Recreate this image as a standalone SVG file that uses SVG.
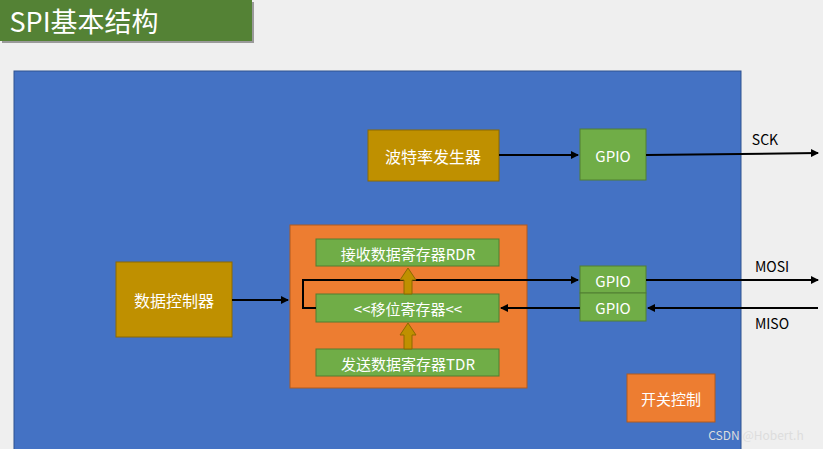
<svg xmlns="http://www.w3.org/2000/svg" width="823" height="449" viewBox="0 0 823 449">
<defs>
<style>
text{font-family:"Microsoft YaHei","Noto Sans CJK SC",sans-serif;fill:#fff;text-anchor:middle;dominant-baseline:central}
.g{fill:#70AD47;stroke:#507E32;stroke-width:1}
.y{fill:#BF9000;stroke:#8C6900;stroke-width:1}
.o{fill:#ED7D31;stroke:#AE5A21;stroke-width:1}
.c{stroke:#000;stroke-width:2;fill:none;marker-end:url(#a)}
</style>
<marker id="a" markerWidth="8" markerHeight="8" refX="7" refY="4" orient="auto" markerUnits="userSpaceOnUse"><path d="M0,0L8,4L0,8z" fill="#000"/></marker>
</defs>
<rect width="823" height="449" fill="#efefef"/>
<g id="title"><rect x="2" y="2" width="252" height="41" fill="#9a9a9a"/><rect x="0" y="0" width="252" height="41" fill="#548235"/><text x="84" y="20" font-size="27" style="text-anchor:middle">SPI基本结构</text></g>
<g id="main"><rect x="14" y="71" width="727" height="390" fill="#4472C4" stroke="#2F528F"/></g>
<g id="baud"><rect class="y" x="368" y="130" width="131" height="51"/><text x="433" y="156" font-size="16">波特率发生器</text></g>
<g id="gpio1"><rect class="g" x="580" y="129" width="66" height="51"/><text x="613" y="155" font-size="15">GPIO</text></g>
<g id="dctl"><rect class="y" x="116" y="262" width="116" height="75"/><text x="174" y="300" font-size="16">数据控制器</text></g>
<g id="unit"><rect class="o" x="290" y="225" width="237" height="163"/></g>
<g id="rdr"><rect class="g" x="316" y="239" width="183" height="27"/><text x="408" y="253" font-size="15">接收数据寄存器RDR</text></g>
<g id="shift"><rect class="g" x="316" y="294" width="183" height="28"/><text x="408" y="308" font-size="15">&lt;&lt;移位寄存器&lt;&lt;</text></g>
<g id="tdr"><rect class="g" x="316" y="349" width="183" height="27"/><text x="408" y="363" font-size="15">发送数据寄存器TDR</text></g>
<g id="gpio2"><rect class="g" x="580" y="266" width="66" height="27"/><text x="613" y="280" font-size="15">GPIO</text></g>
<g id="gpio3"><rect class="g" x="580" y="293" width="66" height="28"/><text x="613" y="307" font-size="15">GPIO</text></g>
<g id="sw"><rect class="o" x="627" y="374" width="88" height="48"/><text x="671" y="398" font-size="15">开关控制</text></g>
<g id="connectors">
<path class="c" d="M499,155H578"/>
<path class="c" d="M646,155L818,153"/>
<path class="c" d="M232,300H288"/>
<path class="c" d="M316,308H303V280H578"/>
<path class="c" d="M646,280H818"/>
<path class="c" d="M818,308H648"/>
<path class="c" d="M580,308H501"/>
<path d="M404,294V280H400L408,268L416,280H412V294Z" fill="#BF9000" stroke="#8C6900"/>
<path d="M404,349V335H400L408,323L416,335H412V349Z" fill="#BF9000" stroke="#8C6900"/>
</g>
<text x="765" y="139" font-size="14" style="fill:#000">SCK</text>
<text x="772" y="266" font-size="14" style="fill:#000">MOSI</text>
<text x="772" y="323" font-size="14" style="fill:#000">MISO</text>
<text x="756" y="434" font-size="12" style="fill:#ddd">CSDN @Hobert.h</text>
</svg>
